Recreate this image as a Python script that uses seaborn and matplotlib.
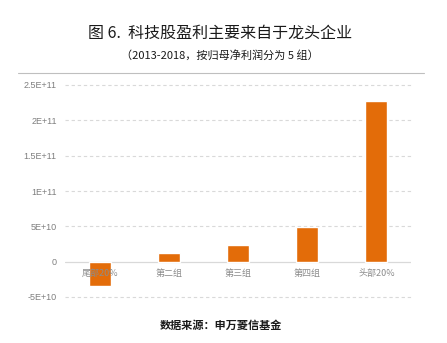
import matplotlib
matplotlib.use("Agg")
import matplotlib.pyplot as plt
import seaborn as sns
import pandas as pd
from matplotlib.lines import Line2D

categories = ["尾部20%", "第二组", "第三组", "第四组", "头部20%"]
values = [-3.5e10, 1.17e10, 2.4e10, 4.95e10, 2.28e11]
ytick_values = [-5e10, 0, 5e10, 1e11, 1.5e11, 2e11, 2.5e11]
ytick_labels = ["-5E+10", "0", "5E+10", "1E+11", "1.5E+11", "2E+11", "2.5E+11"]

title = "图 6.  科技股盈利主要来自于龙头企业"
subtitle = "（2013-2018，按归母净利润分为 5 组）"
source = "数据来源：申万菱信基金"

sns.set_theme(style="white")
plt.rcParams['font.family'] = ['Noto Sans CJK SC', 'DejaVu Sans']

df = pd.DataFrame({"cat": categories, "val": values})

fig = plt.figure(figsize=(4.47, 3.43), dpi=100)
ax = fig.add_axes([65/447, 1-297/343, 346/447, 212/343])

sns.barplot(data=df, x="cat", y="val", color="#E36C09", width=0.32,
            saturation=1, ax=ax, zorder=3)

ax.set_ylim(-5e10, 2.5e11)
ax.set_xlim(-0.5, 4.5)
ax.set_yticks(ytick_values)
ax.set_yticklabels(ytick_labels, family=['Liberation Sans', 'DejaVu Sans'],
                   fontsize=6.5, color="#7f7f7f")
for v in ytick_values:
    if v == 0:
        ax.axhline(v, color="#d9d9d9", lw=0.9, zorder=2)
    else:
        ax.axhline(v, color="#d9d9d9", lw=0.8, ls=(0, (3, 2.5)), zorder=1,
                   clip_on=False)

ax.set_xticks(range(len(categories)))
ax.set_xticklabels([])
for i, c in enumerate(categories):
    ax.text(i, -1.7e10, c, ha="center", va="center",
            fontsize=6.5, color="#8c8c8c", zorder=5,
            fontfamily=['Noto Sans CJK SC', 'DejaVu Sans'])

ax.set_xlabel("")
ax.set_ylabel("")
ax.tick_params(axis="both", length=0, pad=6)
for s in ax.spines.values():
    s.set_visible(False)

fig.text(220/447, 1-33/343, title, ha="center", va="center", fontsize=11.5,
         color="#1a1a1a")
fig.text(220/447, 1-55/343, subtitle, ha="center", va="center", fontsize=8,
         color="#1a1a1a")
fig.text(221/447, 1-325/343, source, ha="center", va="center", fontsize=8,
         color="#1a1a1a", fontweight="bold")
fig.add_artist(Line2D([18/447, 424/447], [1-73/343, 1-73/343],
                      transform=fig.transFigure, color="#bfbfbf", lw=0.8))

fig.savefig("out.png", dpi=100)
